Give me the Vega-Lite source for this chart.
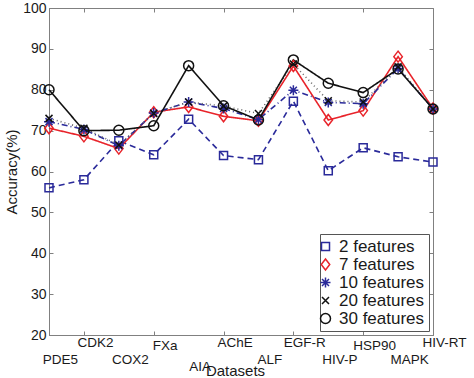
{
  "$schema": "https://vega.github.io/schema/vega-lite/v6.json",
  "width": 384,
  "height": 327,
  "autosize": "none",
  "padding": {"left": 49, "top": 8, "right": 41, "bottom": 43},
  "background": "white",
  "config": {
    "view": {"stroke": "#808080", "strokeWidth": 1},
    "font": "Liberation Sans",
    "axis": {"domainColor": "#808080", "tickColor": "#808080", "labelColor": "#1a1a1a", "titleColor": "#1a1a1a", "grid": false, "titleFontWeight": "normal"},
    "legend": {"orient": "bottom-right", "offset": 4, "fillColor": "white", "strokeColor": "#555555", "padding": 4, "labelFontSize": 17, "labelColor": "#1a1a1a", "symbolSize": 100, "symbolStrokeWidth": 1.5, "rowPadding": 0, "labelOffset": 5, "symbolOffset": -7}
  },
  "data": {"values": [
    {"dataset": "PDE5", "series": "2 features", "acc": 56.0},
    {"dataset": "CDK2", "series": "2 features", "acc": 58.0},
    {"dataset": "COX2", "series": "2 features", "acc": 67.5},
    {"dataset": "FXa", "series": "2 features", "acc": 64.1},
    {"dataset": "AIA", "series": "2 features", "acc": 72.8},
    {"dataset": "AChE", "series": "2 features", "acc": 63.9},
    {"dataset": "ALF", "series": "2 features", "acc": 62.9},
    {"dataset": "EGF-R", "series": "2 features", "acc": 77.2},
    {"dataset": "HIV-P", "series": "2 features", "acc": 60.2},
    {"dataset": "HSP90", "series": "2 features", "acc": 65.8},
    {"dataset": "MAPK", "series": "2 features", "acc": 63.6},
    {"dataset": "HIV-RT", "series": "2 features", "acc": 62.3},
    {"dataset": "PDE5", "series": "7 features", "acc": 70.6},
    {"dataset": "CDK2", "series": "7 features", "acc": 68.6},
    {"dataset": "COX2", "series": "7 features", "acc": 65.6},
    {"dataset": "FXa", "series": "7 features", "acc": 74.5},
    {"dataset": "AIA", "series": "7 features", "acc": 75.8},
    {"dataset": "AChE", "series": "7 features", "acc": 73.5},
    {"dataset": "ALF", "series": "7 features", "acc": 72.4},
    {"dataset": "EGF-R", "series": "7 features", "acc": 85.8},
    {"dataset": "HIV-P", "series": "7 features", "acc": 72.6},
    {"dataset": "HSP90", "series": "7 features", "acc": 74.9},
    {"dataset": "MAPK", "series": "7 features", "acc": 88.1},
    {"dataset": "HIV-RT", "series": "7 features", "acc": 75.4},
    {"dataset": "PDE5", "series": "10 features", "acc": 72.2},
    {"dataset": "CDK2", "series": "10 features", "acc": 70.3},
    {"dataset": "COX2", "series": "10 features", "acc": 66.3},
    {"dataset": "FXa", "series": "10 features", "acc": 74.3},
    {"dataset": "AIA", "series": "10 features", "acc": 77.0},
    {"dataset": "AChE", "series": "10 features", "acc": 75.4},
    {"dataset": "ALF", "series": "10 features", "acc": 72.7},
    {"dataset": "EGF-R", "series": "10 features", "acc": 79.9},
    {"dataset": "HIV-P", "series": "10 features", "acc": 76.9},
    {"dataset": "HSP90", "series": "10 features", "acc": 76.6},
    {"dataset": "MAPK", "series": "10 features", "acc": 85.2},
    {"dataset": "HIV-RT", "series": "10 features", "acc": 75.3},
    {"dataset": "PDE5", "series": "20 features", "acc": 73.0},
    {"dataset": "CDK2", "series": "20 features", "acc": 70.6},
    {"dataset": "COX2", "series": "20 features", "acc": 66.5},
    {"dataset": "FXa", "series": "20 features", "acc": 74.2},
    {"dataset": "AIA", "series": "20 features", "acc": 77.0},
    {"dataset": "AChE", "series": "20 features", "acc": 76.0},
    {"dataset": "ALF", "series": "20 features", "acc": 74.2},
    {"dataset": "EGF-R", "series": "20 features", "acc": 86.3},
    {"dataset": "HIV-P", "series": "20 features", "acc": 77.3},
    {"dataset": "HSP90", "series": "20 features", "acc": 77.0},
    {"dataset": "MAPK", "series": "20 features", "acc": 85.6},
    {"dataset": "HIV-RT", "series": "20 features", "acc": 75.3},
    {"dataset": "PDE5", "series": "30 features", "acc": 80.0},
    {"dataset": "CDK2", "series": "30 features", "acc": 70.0},
    {"dataset": "COX2", "series": "30 features", "acc": 70.1},
    {"dataset": "FXa", "series": "30 features", "acc": 71.2},
    {"dataset": "AIA", "series": "30 features", "acc": 85.9},
    {"dataset": "AChE", "series": "30 features", "acc": 76.1},
    {"dataset": "ALF", "series": "30 features", "acc": 72.6},
    {"dataset": "EGF-R", "series": "30 features", "acc": 87.3},
    {"dataset": "HIV-P", "series": "30 features", "acc": 81.6},
    {"dataset": "HSP90", "series": "30 features", "acc": 79.3},
    {"dataset": "MAPK", "series": "30 features", "acc": 85.1},
    {"dataset": "HIV-RT", "series": "30 features", "acc": 75.3}
  ]},
  "layer": [
    {
      "mark": {"type": "line", "strokeWidth": 1.6},
      "encoding": {
        "x": {
          "field": "dataset", "type": "ordinal",
          "scale": {"type": "point", "padding": 0, "domain": ["PDE5", "CDK2", "COX2", "FXa", "AIA", "AChE", "ALF", "EGF-R", "HIV-P", "HSP90", "MAPK", "HIV-RT"]},
          "axis": {
            "orient": "bottom", "title": "Datasets", "titleFontSize": 15, "titleX": 186, "titleY": 40, "titleBaseline": "alphabetic", "titleAlign": "center",
            "labelAngle": 0, "labelFontSize": 13.5, "labelOffset": 11, "tickSize": -4, "labelBaseline": "top", "labelOverlap": false, "labelBound": false, "labelFlush": false, "labelLimit": 0,
            "labelPadding": {
              "condition": [
                {"test": "datum.value === 'PDE5' || datum.value === 'COX2' || datum.value === 'ALF' || datum.value === 'HIV-P' || datum.value === 'MAPK'", "value": 21},
                {"test": "datum.value === 'FXa' || datum.value === 'HSP90'", "value": 7},
                {"test": "datum.value === 'AIA'", "value": 28}
              ],
              "value": 4
            },
            "tickOpacity": {
              "condition": {"test": "datum.value === 'CDK2' || datum.value === 'FXa' || datum.value === 'AChE' || datum.value === 'EGF-R' || datum.value === 'HSP90' || datum.value === 'HIV-RT'", "value": 1},
              "value": 0
            }
          }
        },
        "y": {
          "field": "acc", "type": "quantitative",
          "scale": {"domain": [20, 100], "nice": false, "zero": false},
          "axis": {"orient": "left", "title": "Accuracy(%)", "titleFontSize": 15, "titlePadding": 3, "values": [20, 30, 40, 50, 60, 70, 80, 90, 100], "labelFontSize": 14, "tickSize": -4, "labelPadding": 7}
        },
        "stroke": {
          "field": "series", "type": "nominal",
          "scale": {"range": ["#2a2a9a", "#2a2a9a", "#666666", "#111111", "#e8232a"]},
          "legend": null
        },
        "strokeDash": {
          "field": "series", "type": "nominal",
          "scale": {"range": [[6, 3, 1, 3], [6, 4], [1, 3], [1, 0], [1, 0]]},
          "legend": null
        }
      }
    },
    {
      "mark": {"type": "point", "filled": false, "size": 100, "strokeWidth": 1.5, "opacity": 1},
      "encoding": {
        "x": {
          "field": "dataset", "type": "ordinal",
          "scale": {"type": "point", "padding": 0, "domain": ["PDE5", "CDK2", "COX2", "FXa", "AIA", "AChE", "ALF", "EGF-R", "HIV-P", "HSP90", "MAPK", "HIV-RT"]},
          "axis": {"orient": "top", "title": null, "labels": false, "domain": false, "tickSize": -4,
            "tickOpacity": {
              "condition": {"test": "datum.value === 'CDK2' || datum.value === 'FXa' || datum.value === 'AChE' || datum.value === 'EGF-R' || datum.value === 'HSP90' || datum.value === 'HIV-RT'", "value": 1},
              "value": 0
            }}
        },
        "y": {
          "field": "acc", "type": "quantitative",
          "scale": {"domain": [20, 100], "nice": false, "zero": false},
          "axis": {"orient": "right", "title": null, "labels": false, "domain": false, "tickSize": -4, "values": [20, 30, 40, 50, 60, 70, 80, 90, 100]}
        },
        "color": {
          "field": "series", "type": "nominal",
          "scale": {"domain": ["2 features", "7 features", "10 features", "20 features", "30 features"], "range": ["#2a2a9a", "#e8232a", "#2a2a9a", "#111111", "#111111"]},
          "legend": {"title": null}
        },
        "shape": {
          "field": "series", "type": "nominal",
          "scale": {"domain": ["2 features", "7 features", "10 features", "20 features", "30 features"], "range": ["M-0.8,-0.8L0.8,-0.8L0.8,0.8L-0.8,0.8Z", "M0,-1.1L0.85,0L0,1.1L-0.85,0Z", "M-1,0L1,0M0,-1L0,1M-0.7,-0.7L0.7,0.7M-0.7,0.7L0.7,-0.7", "M-0.7,-0.7L0.7,0.7M-0.7,0.7L0.7,-0.7", "circle"]},
          "legend": {"title": null}
        }
      }
    }
  ],
  "resolve": {"axis": {"x": "independent", "y": "independent"}}
}
